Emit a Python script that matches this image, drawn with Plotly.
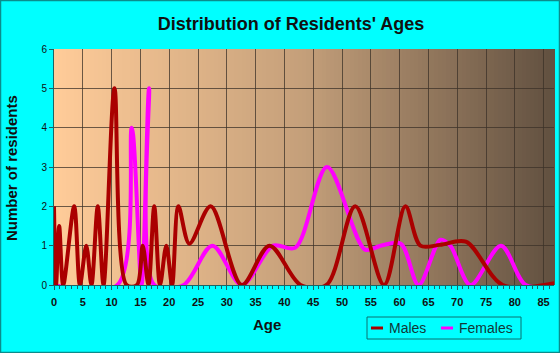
import plotly.graph_objects as go

# ---- data ----
male_age = [0, 0.35, 0.9, 1.6, 3.5, 4.5, 5.6, 6.5, 7.6, 8.6, 10.5, 12.6, 14.4, 15.4, 16.4,
            17.4, 18.4, 19.5, 20.5, 21.6, 23.5, 27.2, 32.6, 37.4, 42.8, 47.3, 52.3, 57.3,
            61.0, 63.6, 67.0, 71.5, 77.9, 87.0]
male_val = [2, 0, 1.5, 0, 2, 0, 1, 0, 2, 0, 5, 0, 0, 1, 0,
            2, 0, 1, 0, 2, 1.05, 2, 0, 1, 0, 0, 2, 0,
            2, 1, 1.02, 1.1, 0, 0.05]

female_age = [0, 11.0, 13.5, 15.2, 16.5, 17.4, 22.5, 27.5, 32.6, 38.0, 41.9, 47.4, 54.0,
              56.7, 60.2, 63.3, 67.1, 68.8, 72.3, 77.6, 81.9, 87.0]
female_val = [0, 0, 4, 0, 5, 0, 0, 1, 0, 1, 0.95, 3, 0.9,
              1, 1.05, 0, 1.15, 1, 0, 1, 0, 0]

x_ticks = list(range(0, 90, 5))
y_ticks = list(range(0, 7))
series_names = ["Males", "Females"]
series_colors = ["#aa0000", "#ff00ff"]

# ---- layout constants ----
W, H = 560, 353
ML, MR, MT, MB = 54, 6, 49, 68
PW, PH = W - ML - MR, H - MT - MB

def px_x(px):
    return (px - ML) / PW

def px_y(py):
    return (H - MB - py) / PH

def lerp(c1, c2, t):
    return tuple(int(round(a + (b - a) * t)) for a, b in zip(c1, c2))

stops = [(0.0, (255, 204, 153)), (0.5, (196, 159, 122)), (1.0, (97, 80, 64))]

def grad(t):
    for (t0, c0), (t1, c1) in zip(stops[:-1], stops[1:]):
        if t <= t1:
            return lerp(c0, c1, (t - t0) / (t1 - t0))
    return stops[-1][1]

shapes = []
N = 125
for i in range(N):
    c = grad((i + 0.5) / N)
    shapes.append(dict(type="rect", xref="paper", yref="paper",
                       x0=i / N, x1=(i + 1) / N + 0.002, y0=0, y1=1,
                       fillcolor="rgb(%d,%d,%d)" % c, line=dict(width=0), layer="below"))
# outer border
shapes.append(dict(type="rect", xref="paper", yref="paper",
                   x0=px_x(0.5), x1=px_x(559.5), y0=px_y(352.5), y1=px_y(0.5),
                   line=dict(color="#0b8c8c", width=1.5), fillcolor="rgba(0,0,0,0)"))

font = "Liberation Sans, Arial, sans-serif"
annotations = []

# manual legend
LX0, LX1, LY0, LY1 = 367, 521, 317, 339
shapes.append(dict(type="rect", xref="paper", yref="paper",
                   x0=px_x(LX0), x1=px_x(LX1), y0=px_y(LY1), y1=px_y(LY0),
                   line=dict(color="#0b7070", width=1), fillcolor="rgba(0,0,0,0)"))
item_x = [371, 441]
ly = (LY0 + LY1) / 2
for name, col, x0 in zip(series_names, series_colors, item_x):
    shapes.append(dict(type="line", xref="paper", yref="paper",
                       x0=px_x(x0), x1=px_x(x0 + 12), y0=px_y(ly), y1=px_y(ly),
                       line=dict(color=col, width=3)))
    annotations.append(dict(text=name, xref="paper", yref="paper", x=px_x(x0 + 16), y=px_y(ly),
                            xanchor="left", yanchor="middle", showarrow=False,
                            font=dict(family=font, size=14, color="#113838")))

# axis titles
annotations.append(dict(text="<b>Age</b>", xref="paper", yref="paper", x=px_x(267), y=px_y(324),
                        xanchor="center", yanchor="middle", showarrow=False,
                        font=dict(family=font, size=15, color="#111111")))
annotations.append(dict(text="<b>Number of residents</b>", xref="paper", yref="paper",
                        x=px_x(11), y=px_y(168), textangle=-90,
                        xanchor="center", yanchor="middle", showarrow=False,
                        font=dict(family=font, size=15, color="#111111")))

fig = go.Figure()
for name, col, xs, ys in [("Females", series_colors[1], female_age, female_val),
                          ("Males", series_colors[0], male_age, male_val)]:
    fig.add_trace(go.Scatter(x=xs, y=ys, mode="lines", name=name, showlegend=False,
                             line=dict(color=col, width=4, shape="spline", smoothing=0.9)))

fig.update_layout(
    width=W, height=H,
    margin=dict(l=ML, r=MR, t=MT, b=MB),
    paper_bgcolor="#00ffff",
    plot_bgcolor="rgba(0,0,0,0)",
    shapes=shapes,
    annotations=annotations,
    showlegend=False,
    title=dict(text="<b>Distribution of Residents' Ages</b>", x=291 / W, xanchor="center",
               y=1 - 24 / H, yanchor="middle",
               font=dict(family=font, size=18, color="#111111")),
    xaxis=dict(range=[0, 86.8], tickvals=x_ticks, ticktext=[str(v) for v in x_ticks],
               showgrid=True, gridcolor="rgba(60,50,40,0.75)", gridwidth=1,
               zeroline=False, showline=True, linecolor="#1a6666", linewidth=1,
               ticks="outside", ticklen=4, tickcolor="#1a6666",
               minor=dict(dtick=1, ticks="outside", ticklen=3, tickcolor="#1a6666", showgrid=False),
               tickfont=dict(family=font, size=11, color="#111111", weight="bold"),
               ticklabelstandoff=3, automargin=False, fixedrange=True),
    yaxis=dict(range=[0, 6], tickvals=y_ticks, ticktext=[str(v) for v in y_ticks],
               showgrid=True, gridcolor="rgba(60,50,40,0.75)", gridwidth=1,
               zeroline=False, showline=True, linecolor="#1a6666", linewidth=1,
               ticks="outside", ticklen=4, tickcolor="#1a6666",
               tickfont=dict(family=font, size=10, color="#111111"),
               automargin=False, fixedrange=True),
)
fig.write_html("out.html")
